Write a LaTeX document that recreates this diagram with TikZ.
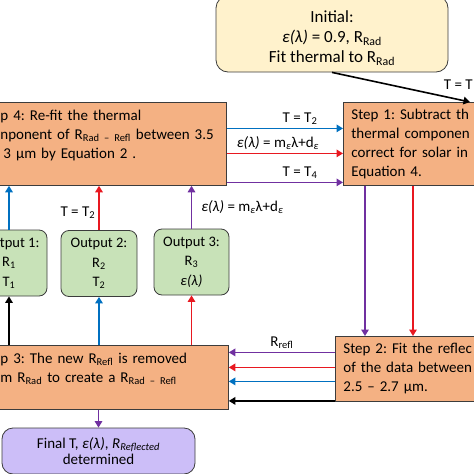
\documentclass[tikz,border=0pt]{standalone}
\usepackage{fontspec}
\setmainfont{Carlito}
\usetikzlibrary{arrows.meta}

\definecolor{boxorange}{RGB}{244,177,131}
\definecolor{boxyellow}{RGB}{255,242,204}
\definecolor{boxgreen}{RGB}{200,226,184}
\definecolor{boxlilac}{RGB}{204,190,248}
\definecolor{lineblue}{RGB}{0,112,192}
\definecolor{linered}{RGB}{232,24,32}
\definecolor{linepurple}{RGB}{112,48,160}
\definecolor{boxedge}{RGB}{60,60,60}

\newcommand{\lo}[1]{\textsubscript{#1}}
\frenchspacing

\begin{document}
\begin{tikzpicture}[x=1pt,y=-1pt,
    every node/.style={font=\fontsize{15}{19}\selectfont},
    flow/.style={line width=1.6pt,-{Triangle[length=6.5pt,width=7.5pt]}},
    lbl/.style={inner sep=3pt,text=black}]
				\tikzstyle{stepbox}=[draw=boxedge,fill=boxorange,line width=0.8pt,align=left,inner xsep=8pt,text width=240pt,anchor=north west]
				\tikzstyle{outbox}=[draw=boxedge,fill=boxgreen,line width=0.8pt,rounded corners=8pt,align=center,minimum width=76pt,minimum height=66pt,inner sep=2pt,font=\fontsize{14.5}{19.5}\selectfont]
				\useasboundingbox (0,0) rectangle (474,474);
				\clip (0,0) rectangle (474,474);
				% boxes
				\node [draw=boxedge,fill=boxyellow,line width=0.8pt,rounded corners=12pt,align=center,minimum width=232pt,minimum height=76pt,font=\fontsize{17}{20}\selectfont] (ini) at (332,34) {\rule{0pt}{20pt}Initial:\\\textit{ε(λ)} = 0.9, R\lo{Rad}\\Fit thermal to R\lo{Rad}};
				\node [stepbox,text width=218pt,minimum height=83pt] (s4) at (-8,102) {p 4: Re-fit the thermal\\nponent of R\lo{Rad – Refl} between 3.5\\\hspace*{3pt}3 µm by Equation 2 .\\\mbox{}};
				\node [stepbox,minimum height=83pt] (s1) at (343,102) {Step 1: Subtract th\\thermal componen\\correct for solar in\\Equation 4.};
				\node [outbox] (o1) at (9,263) {\rlap{\hspace*{-9pt}tput 1:}\\R\lo{1}\\T\lo{1}};
				\node [outbox] (o2) at (99,263.5) {Output 2:\\R\lo{2}\\T\lo{2}};
				\node [outbox,minimum width=75pt] (o3) at (191.5,262) {Output 3:\\R\lo{3}\\\textit{ε(λ)}};
				\node [stepbox,minimum height=65pt] (s2) at (335,336) {Step 2: Fit the reflec\\of the data between\\2.5 – 2.7 µm.};
				\node [stepbox,text width=220pt,minimum height=64pt] (s3) at (-8,345) {p 3: The new R\lo{Refl} is removed\\m R\lo{Rad} to create a R\lo{Rad – Refl}\\\mbox{}};
				\node [draw=boxedge,fill=boxlilac,line width=0.8pt,rounded corners=11pt,align=center,minimum width=193pt,minimum height=46pt,font=\fontsize{15}{16}\selectfont] (fin) at (98.5,451) {Final T, \textit{ε(λ)}, \textit{R\lo{Reflected}}\\determined};
				% initial guess
				\draw [flow,black] (ini.south) -- ([xshift=127pt]s1.north west);
				\node [lbl,anchor=east] (tone) at (476,85) {T = T};
				% step 4 to step 1
				\draw [flow,lineblue] ([yshift=15.5pt]s4.east) -- node [lbl,above,pos=0.63] {T = T\lo{2}} ([yshift=15.5pt]s4.east -| s1.west);
				\draw [flow,linered] ([yshift=-9.5pt]s4.east) -- node [lbl,above,pos=0.44] {\textit{ε(λ)} = m\lo{\textit{ε}}λ+d\lo{\textit{ε}}} ([yshift=-9.5pt]s4.east -| s1.west);
				\draw [flow,linepurple] ([yshift=-38.5pt]s4.east) -- node [lbl,above,pos=0.63] {T = T\lo{4}} ([yshift=-38.5pt]s4.east -| s1.west);
				% step 1 to step 2
				\draw [flow,linepurple] ([xshift=22pt]s1.south west) -- ([xshift=30pt]s2.north west);
				\draw [flow,linered] ([xshift=70pt]s1.south west) -- ([xshift=78pt]s2.north west);
				% step 2 to step 3
				\draw [flow,linepurple] ([yshift=16.5pt]s2.west) -- node [lbl,above] {R\lo{refl}} ([yshift=16.5pt]s2.west -| s3.east);
				\draw [flow,linered] ([yshift=1.5pt]s2.west) -- ([yshift=1.5pt]s2.west -| s3.east);
				\draw [flow,lineblue] ([yshift=-12.5pt]s2.west) -- ([yshift=-12.5pt]s2.west -| s3.east);
				\draw [flow,black] ([yshift=-32pt]s2.west) -- ([yshift=-32pt]s2.west -| s3.east);
				% step 3 to outputs
				\draw [flow,black] (o1.south |- s3.north) -- (o1.south);
				\draw [flow,lineblue] (o2.south |- s3.north) -- (o2.south);
				\draw [flow,linered] (o3.south |- s3.north) -- (o3.south);
				% outputs to step 4
				\draw [flow,lineblue] (o1.north) -- (o1.north |- s4.south);
				\draw [flow,linered] (o2.north) -- node [lbl,left,pos=0.4] {T = T\lo{2}} (o2.north |- s4.south);
				\draw [flow,linepurple] (o3.north) -- node [lbl,right,pos=0.5,xshift=6pt] {\textit{ε(λ)} = m\lo{\textit{ε}}λ+d\lo{\textit{ε}}} (o3.north |- s4.south);
				% final result
				\draw [flow,linepurple] (fin.north |- s3.south) -- (fin.north);
\end{tikzpicture}
\end{document}
